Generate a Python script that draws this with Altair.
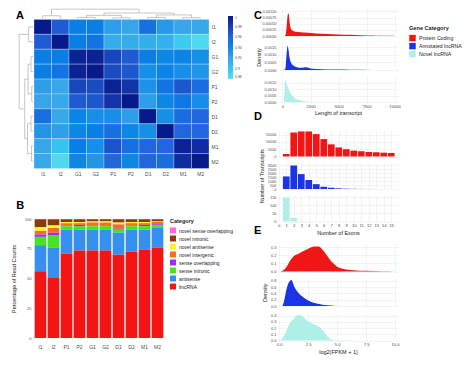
import json
import altair as alt
import pandas as pd

FONT = "Liberation Sans"
LAB = "#4d4d4d"
TIT = "#1a1a1a"
GRID = "#e6e6e6"

# ---------------- Panel A: sample correlation heatmap ----------------
heat_samples = ["I1", "I2", "G1", "G2", "P1", "P2", "D1", "D2", "M1", "M2"]
heat_I1 = [1.000, 0.965, 0.945, 0.945, 0.925, 0.920, 0.955, 0.928, 0.920, 0.918]
heat_I2 = [0.965, 1.000, 0.945, 0.952, 0.915, 0.915, 0.915, 0.912, 0.895, 0.885]
heat_G1 = [0.945, 0.945, 0.995, 0.996, 0.976, 0.966, 0.945, 0.940, 0.942, 0.935]
heat_G2 = [0.945, 0.952, 0.996, 1.000, 0.974, 0.968, 0.935, 0.942, 0.935, 0.930]
heat_P1 = [0.925, 0.918, 0.976, 0.974, 0.996, 0.986, 0.932, 0.952, 0.968, 0.956]
heat_P2 = [0.920, 0.918, 0.966, 0.968, 0.986, 1.000, 0.925, 0.940, 0.950, 0.936]
heat_D1 = [0.955, 0.918, 0.942, 0.935, 0.935, 0.925, 1.000, 0.935, 0.956, 0.960]
heat_D2 = [0.930, 0.924, 0.940, 0.945, 0.955, 0.940, 0.935, 1.000, 0.960, 0.960]
heat_M1 = [0.920, 0.900, 0.945, 0.935, 0.970, 0.955, 0.960, 0.960, 0.996, 0.990]
heat_M2 = [0.918, 0.885, 0.940, 0.930, 0.960, 0.940, 0.960, 0.956, 0.990, 1.000]
heat_rows = [heat_I1, heat_I2, heat_G1, heat_G2, heat_P1, heat_P2,
             heat_D1, heat_D2, heat_M1, heat_M2]
heat_scale_domain = [0.88, 0.92, 0.96, 1.0]
heat_scale_colors = ["#58e1ef", "#39a5e9", "#2266dd", "#061a8c"]
heat_legend_values = [1.0, 0.98, 0.96, 0.94, 0.92, 0.9, 0.88]
# hierarchical clustering merges: (child a, child b, height); leaves 0-9
dendro_merges = [(2, 3, 0.15), (4, 5, 0.10), (6, 7, 0.15), (8, 9, 0.12),
                 (0, 1, 0.32), (10, 11, 0.36), (12, 13, 0.40),
                 (15, 16, 0.60), (14, 17, 1.00)]

# ---------------- Panel B: read count composition ----------------
read_samples = ["I1", "I2", "P1", "P2", "G1", "G2", "D1", "D2", "M1", "M2"]
read_categories = ["novel sense overlapping", "novel intronic", "novel antisense",
                   "novel intergenic", "sense overlapping", "sense intronic",
                   "antisense", "lincRNA"]
read_colors = ["#ff61f5", "#8b3a0e", "#fff42a", "#ff6a1f", "#9a30ee",
               "#47e31e", "#3590f0", "#f41414"]
read_nso = [0.2, 0.2, 0.2, 0.2, 0.2, 0.2, 0.2, 0.2, 0.2, 0.2]
read_ni = [6.8, 5.3, 2.3, 2.3, 1.8, 1.8, 2.8, 2.3, 2.3, 1.8]
read_na = [3.0, 2.0, 1.0, 1.0, 1.0, 1.0, 1.5, 1.0, 1.0, 0.5]
read_nig = [3.0, 4.0, 2.0, 1.5, 2.5, 2.5, 3.5, 2.0, 1.5, 2.0]
read_so = [2.0, 2.0, 0.5, 1.0, 0.5, 0.5, 1.0, 0.5, 1.0, 0.5]
read_si = [7.0, 10.5, 3.0, 3.0, 3.0, 3.0, 2.5, 3.0, 3.0, 2.5]
read_as = [22.0, 25.5, 20.0, 17.5, 17.5, 17.5, 18.5, 18.5, 17.0, 16.5]
read_linc = [56.0, 50.5, 71.0, 73.5, 73.5, 73.5, 70.0, 72.5, 74.0, 76.0]
read_values = [read_nso, read_ni, read_na, read_nig, read_so, read_si, read_as, read_linc]

# ---------------- Panels C-E: gene categories ----------------
gene_cats = ["Protein Coding", "Annotated lncRNA", "Novel lncRNA"]
gene_colors = ["#f01616", "#1c33e6", "#aef0e6"]

# C: transcript length density
pc_len_x = [0, 200, 300, 380, 450, 520, 560, 620, 700, 800, 950, 1200, 1600, 2000,
            2500, 3000, 4000, 5000, 6000, 7000, 8000, 9000, 10000]
pc_len_d = [0, 0.000005, 0.00008, 0.00045, 0.00080, 0.00093, 0.00090, 0.00062,
            0.00038, 0.00026, 0.00020, 0.000175, 0.000155, 0.00014, 0.00012,
            0.000105, 0.000085, 0.000065, 0.00005, 0.000035, 0.000025, 0.000015, 0.000008]
al_len_x = [0, 200, 280, 350, 420, 470, 530, 600, 700, 850, 1000, 1300, 1600, 1900,
            2100, 2400, 3000, 4000, 5000, 6000, 8000, 10000]
al_len_d = [0, 0.00001, 0.0002, 0.0009, 0.00145, 0.00157, 0.00135, 0.00095, 0.0006,
            0.00038, 0.00028, 0.00018, 0.00014, 0.00017, 0.00018, 0.00012, 0.00007,
            0.00004, 0.000025, 0.000015, 0.000008, 0.000004]
nl_len_x = [0, 120, 180, 230, 270, 330, 420, 550, 700, 900, 1100, 1400, 1800, 2200,
            2600, 3000, 10000]
nl_len_d = [0, 0.00005, 0.0009, 0.0016, 0.00177, 0.0016, 0.0013, 0.001, 0.0007,
            0.00045, 0.0003, 0.00017, 0.00008, 0.00003, 0.00001, 0, 0]

# D: number of exons
exon_n = list(range(1, 16))
pc_exons = [1700, 16400, 17100, 17100, 15300, 11900, 8300, 6200, 5000, 4000,
            3600, 3100, 2900, 2600, 2400]
al_exons = [1580, 2950, 1870, 1130, 610, 280, 160, 80, 40, 20, 10, 5, 3, 2, 1]
nl_exons = [148, 22, 2, 1, 0, 0, 0, 0, 0, 0, 0, 0, 0, 0, 0]

# E: expression density
pc_fp_x = [0.1, 0.55, 0.97, 1.25, 1.67, 2.2, 2.64, 3.0, 3.4, 3.75, 4.17, 4.6, 5.0,
           5.56, 6.4, 7.5, 8.9, 10.0]
pc_fp_d = [0, 0.04, 0.14, 0.19, 0.22, 0.26, 0.29, 0.31, 0.31, 0.27, 0.19, 0.11, 0.06,
           0.032, 0.016, 0.008, 0.002, 0.0]
al_fp_x = [0.28, 0.45, 0.55, 0.78, 1.05, 1.33, 1.67, 2.22, 2.78, 3.33, 4.17, 4.86]
al_fp_d = [0, 0.2, 0.39, 0.70, 0.82, 0.59, 0.41, 0.24, 0.13, 0.07, 0.02, 0.0]
nl_fp_x = [0.08, 0.42, 0.83, 1.25, 1.61, 1.9, 2.36, 2.92, 3.47, 3.9, 4.3, 4.72, 5.5,
           6.5, 8.0]
nl_fp_d = [0, 0.077, 0.25, 0.35, 0.41, 0.40, 0.33, 0.27, 0.22, 0.13, 0.04, 0.005,
           0.003, 0.002, 0.0]

# =====================================================================
def letter_top(t, dx, offset):
    return alt.TitleParams(text=t, anchor="start", frame="group", dx=dx, offset=offset,
                           fontSize=11, fontWeight="bold", color="black", font=FONT)


def letter_bottom(t, dx, offset):
    # panel letter of the panel that follows, drawn in the gutter below this one
    return alt.TitleParams(text=t, orient="bottom", anchor="start", frame="group",
                           baseline="top", dx=dx, offset=offset, fontSize=11,
                           fontWeight="bold", color="black", font=FONT)


# ---- Panel A
heat_records = []
for i, row in enumerate(heat_rows):
    for j, v in enumerate(row):
        heat_records.append({"r0": i, "r1": i + 1, "c0": j, "c1": j + 1, "value": v})
heat_df = pd.DataFrame(heat_records)

pos = {k: k + 0.5 for k in range(10)}
hgt = {k: 0.0 for k in range(10)}
segs = []
for n, (a, b, h) in enumerate(dendro_merges):
    segs.append((pos[a], hgt[a], pos[a], h))
    segs.append((pos[b], hgt[b], pos[b], h))
    segs.append((pos[a], h, pos[b], h))
    pos[10 + n] = (pos[a] + pos[b]) / 2
    hgt[10 + n] = h
dend_records = []
for p1, h1, p2, h2 in segs:
    dend_records.append({"x": p1, "x2": p2, "y": -0.04 - h1 * 0.65, "y2": -0.04 - h2 * 0.65})
    dend_records.append({"y": p1, "y2": p2, "x": -0.05 - h1 * 0.8, "x2": -0.05 - h2 * 0.8})
dend_df = pd.DataFrame(dend_records)

tick_pos = [k + 0.5 for k in range(10)]
label_expr = json.dumps(heat_samples) + "[floor(datum.value)]"
xs = alt.Scale(domain=[0, 10], nice=False, zero=False)
ys = alt.Scale(domain=[-0.7, 10], nice=False, zero=False, reverse=True)
xa = alt.Axis(values=tick_pos, labelExpr=label_expr, title=None, domain=False, ticks=False,
              grid=False, labelFontSize=5, labelPadding=3, labelColor=LAB, labelFlush=False)
ya = alt.Axis(orient="right", values=tick_pos, labelExpr=label_expr, title=None, domain=False,
              ticks=False, grid=False, labelFontSize=5, labelPadding=2, labelColor=LAB,
              labelFlush=False)

heat = alt.Chart(heat_df).mark_rect(stroke="#eef3fb", strokeWidth=0.3).encode(
    x=alt.X("c0:Q", scale=xs, axis=xa), x2="c1:Q",
    y=alt.Y("r0:Q", scale=ys, axis=ya), y2="r1:Q",
    color=alt.Color("value:Q",
                    scale=alt.Scale(domain=heat_scale_domain, range=heat_scale_colors),
                    legend=alt.Legend(title=None, values=heat_legend_values, format=".2~f",
                                      orient="none", legendX=194, legendY=7,
                                      direction="vertical",
                                      gradientLength=63, gradientThickness=5,
                                      gradientStrokeWidth=0, labelFontSize=3.5,
                                      labelColor=LAB, labelOffset=2)),
)
dend = alt.Chart(dend_df).mark_rule(color="#a0a0a0", strokeWidth=0.6).encode(
    x=alt.X("x:Q", scale=xs, axis=xa), x2="x2:Q",
    y=alt.Y("y:Q", scale=ys, axis=ya), y2="y2:Q",
)
panel_a = alt.layer(heat, dend).properties(width=175, height=159.5,
                                           title=letter_top("A", dx=-18, offset=-12))

# ---- Panel B
b_records = []
for ci, cat in enumerate(read_categories):
    for si, s in enumerate(read_samples):
        b_records.append({"sample": s, "category": cat, "pct": read_values[ci][si],
                          "stack": len(read_categories) - ci})
b_df = pd.DataFrame(b_records)

panel_b = alt.Chart(b_df).mark_bar().encode(
    x=alt.X("sample:N", sort=read_samples,
            scale=alt.Scale(paddingInner=0.1, paddingOuter=0.05),
            axis=alt.Axis(title=None, labelAngle=0, domain=False, ticks=False,
                          labelFontSize=5, labelPadding=6, labelColor=LAB)),
    y=alt.Y("pct:Q", stack="zero", scale=alt.Scale(domain=[0, 100], nice=False),
            axis=alt.Axis(values=[0, 25, 50, 75, 100], title="Percentage of Read Counts",
                          grid=False, domain=False, ticks=False, labelFontSize=4,
                          labelPadding=3, labelColor=LAB, titleFontSize=5.5,
                          titleColor=TIT, titleFontWeight="normal", titlePadding=8)),
    color=alt.Color("category:N",
                    scale=alt.Scale(domain=read_categories, range=read_colors),
                    legend=alt.Legend(title="Category", orient="right", offset=6,
                                      symbolType="square", symbolSize=36,
                                      symbolStrokeWidth=0, labelFontSize=5,
                                      labelColor=TIT, titleFontSize=5.5,
                                      titleFontWeight="bold", titleColor=TIT,
                                      rowPadding=2, titlePadding=3, labelOffset=3)),
    order=alt.Order("stack:Q", sort="ascending"),
).properties(width=130, height=119,
             title=alt.TitleParams(text="B", anchor="start", fontSize=11, fontWeight="bold",
                                   offset=6, dx=5, color="black", font=FONT))

# ---- Panels C-E: three stacked rows per panel, each row with its own y scale
gene_color = alt.Color("cat:N", scale=alt.Scale(domain=gene_cats, range=gene_colors),
                       legend=alt.Legend(title="Gene Category", orient="none",
                                         legendX=131, legendY=17, symbolType="square",
                                         symbolSize=42, symbolStrokeWidth=0,
                                         labelFontSize=5.2, labelColor=TIT,
                                         titleFontSize=5.6, titleFontWeight="bold",
                                         titleColor=TIT, rowPadding=1, titlePadding=3,
                                         labelOffset=3))


def x_axis(values, fmt, show, title):
    return alt.Axis(orient="bottom", values=values, format=fmt, labels=show,
                    title=title if show else None, domain=False, ticks=False, grid=True,
                    gridColor=GRID, gridWidth=0.5, labelFontSize=4.2, labelColor=LAB,
                    labelPadding=2, labelFlush=False, titleFontSize=5.5, titleColor=TIT,
                    titleFontWeight="normal", titlePadding=2.5)


def y_axis(values, fmt, title):
    return alt.Axis(orient="left", values=values, format=fmt, title=title, domain=False,
                    ticks=False, grid=True, gridColor=GRID, gridWidth=0.5,
                    labelFontSize=3.9, labelColor=LAB, labelPadding=2, labelFlush=False,
                    titleFontSize=5.5, titleColor=TIT, titleFontWeight="normal",
                    titlePadding=3)


def area_panel(xlist, dlist, xdom, xvals, xfmt, xtitle, ydoms, yvals, yfmts, ytitle,
               ranges, height):
    layers = []
    for k in range(3):
        df = pd.DataFrame({"x": xlist[k], "d": dlist[k], "cat": gene_cats[k]})
        layers.append(alt.Chart(df).mark_area(interpolate="monotone").encode(
            x=alt.X("x:Q", scale=alt.Scale(domain=xdom, nice=False, zero=False),
                    axis=x_axis(xvals, xfmt, k == 2, xtitle)),
            y=alt.Y("d:Q", scale=alt.Scale(domain=ydoms[k], range=ranges[k], nice=False),
                    axis=y_axis(yvals[k], yfmts[k], ytitle if k == 1 else None)),
            color=gene_color,
        ))
    return alt.layer(*layers).resolve_scale(x="independent", y="independent").properties(
        width=120, height=height)


def bar_panel(counts, ydoms, yvals, ytitle, ranges, height):
    layers = []
    for k in range(3):
        df = pd.DataFrame({"n": exon_n, "count": counts[k], "cat": gene_cats[k]})
        layers.append(alt.Chart(df).transform_calculate(
            n0="datum.n - 0.45", n1="datum.n + 0.45", zero="0"
        ).mark_rect().encode(
            x=alt.X("n0:Q", scale=alt.Scale(domain=[-0.1, 15.9], nice=False, zero=False),
                    axis=x_axis(list(range(16)), "d", k == 2, "Number of Exons")),
            x2="n1:Q",
            y=alt.Y("count:Q", scale=alt.Scale(domain=ydoms[k], range=ranges[k], nice=False),
                    axis=y_axis(yvals[k], "d", ytitle if k == 1 else None)),
            y2="zero:Q",
            color=gene_color,
        ))
    return alt.layer(*layers).resolve_scale(x="independent", y="independent").properties(
        width=120, height=height)


panel_c = area_panel(
    [pc_len_x, al_len_x, nl_len_x], [pc_len_d, al_len_d, nl_len_d],
    [-400, 10300], [0, 2500, 5000, 7500, 10000], "d", "Lenght of transcript",
    [[0, 0.0011], [0, 0.0017], [0, 0.00195]],
    [[0, 0.00025, 0.0005, 0.00075, 0.001], [0, 0.0005, 0.001, 0.0015],
     [0, 0.0005, 0.001, 0.0015]],
    [".5f", ".4f", ".4f"], "Density",
    [[27, 0], [61, 35], [93, 68]], 93
).properties(title=letter_bottom("D", dx=-24, offset=-5))

panel_d = bar_panel(
    [pc_exons, al_exons, nl_exons],
    [[0, 18100], [0, 3330], [0, 164]],
    [[0, 5000, 10000, 15000], [0, 500, 1000, 1500, 2000, 2500, 3000], [0, 50, 100, 150]],
    "Number of Transcripts",
    [[26.5, 0], [59, 32.5], [91.5, 65]], 91.5
).properties(title=letter_bottom("E", dx=-24, offset=-11))

panel_e = area_panel(
    [pc_fp_x, al_fp_x, nl_fp_x], [pc_fp_d, al_fp_d, nl_fp_d],
    [-0.1, 10.25], [0, 2.5, 5, 7.5, 10], ".1f", "log2(FPKM + 1)",
    [[0, 0.34], [0, 0.87], [0, 0.44]],
    [[0, 0.1, 0.2, 0.3], [0, 0.2, 0.4, 0.6, 0.8], [0, 0.1, 0.2, 0.3, 0.4]],
    [".1f", ".1f", ".1f"], "Density",
    [[27.5, 0], [62, 34.5], [96.5, 69]], 96.5)

left = alt.vconcat(panel_a, panel_b, spacing=22).resolve_scale(color="independent")
right = alt.vconcat(panel_c, panel_d, panel_e, spacing=6).properties(
    title=letter_top("C", dx=-24, offset=-12))

chart = alt.hconcat(left, right, spacing=10).resolve_scale(color="independent").properties(
    padding={"left": 2, "top": 0, "right": 0, "bottom": 0}
).configure(font=FONT).configure_view(stroke="transparent")

chart.save("out.html", embed_options={"renderer": "svg", "actions": False})
